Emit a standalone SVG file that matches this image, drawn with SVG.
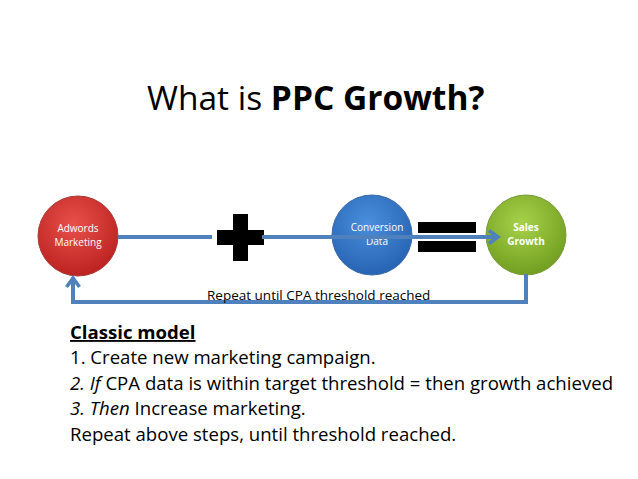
<svg xmlns="http://www.w3.org/2000/svg" width="638" height="479" viewBox="0 0 638 479">
<defs>
<radialGradient id="gr" cx="0.45" cy="0.35" r="0.7"><stop offset="0" stop-color="#e8504c"/><stop offset="1" stop-color="#b9201d"/></radialGradient>
<radialGradient id="gb" cx="0.45" cy="0.35" r="0.7"><stop offset="0" stop-color="#4a8fdc"/><stop offset="1" stop-color="#2461b0"/></radialGradient>
<radialGradient id="gg" cx="0.45" cy="0.35" r="0.7"><stop offset="0" stop-color="#a6d24a"/><stop offset="1" stop-color="#6f9b1e"/></radialGradient>
<marker id="ah" markerWidth="14" markerHeight="16" refX="11" refY="8" orient="auto" markerUnits="userSpaceOnUse" viewBox="0 0 14 16"><path d="M2,1.5 L11,8 L2,14.5" fill="none" stroke="#4f81bd" stroke-width="3.5"/></marker>
</defs>
<style>
.ln{stroke:#4f81bd;stroke-width:4;fill:none}
.nt{font-family:"Open Sans","Liberation Sans",sans-serif;font-size:10px;fill:#fff;text-anchor:middle}
.bt{font-family:"Open Sans","Liberation Sans",sans-serif;font-size:18.6px;fill:#000}
</style>
<rect width="638" height="479" fill="#fff"/>
<text x="147" y="110" font-family="Open Sans,Liberation Sans,sans-serif" font-size="33.5" fill="#000">What is <tspan font-weight="bold">PPC Growth?</tspan></text>
<g id="adwords"><circle cx="78" cy="236" r="40" fill="url(#gr)" stroke="#a83a38" stroke-width="1"/><text class="nt" x="78" y="232">Adwords</text><text class="nt" x="78" y="246">Marketing</text></g>
<g id="plus"><path d="M233,214 h15 v16 h16 v15 h-16 v16 h-15 v-16 h-16 v-15 h16 z" fill="#000"/></g>
<g id="conversion"><circle cx="372" cy="235" r="40" fill="url(#gb)" stroke="#3a6aa8" stroke-width="1"/><text class="nt" x="377" y="231">Conversion</text><text class="nt" x="377" y="245">Data</text></g>
<g id="equals"><rect x="418" y="222" width="58" height="11" fill="#000"/><rect x="418" y="241" width="58" height="11" fill="#000"/></g>
<g id="sales"><circle cx="526" cy="235" r="40" fill="url(#gg)" stroke="#7a9a3a" stroke-width="1"/><text class="nt" x="526" y="231" font-weight="bold">Sales</text><text class="nt" x="526" y="245" font-weight="bold">Growth</text></g>
<g id="connectors">
<line class="ln" x1="118" y1="237" x2="212" y2="237"/>
<line class="ln" x1="262" y1="237" x2="498" y2="237" marker-end="url(#ah)"/>
<polyline class="ln" points="526,274 526,302 73,302 73,278" marker-end="url(#ah)"/>
</g>
<text x="207" y="300" font-family="Open Sans,Liberation Sans,sans-serif" font-size="13.5" fill="#000">Repeat until CPA threshold reached</text>
<text class="bt" x="70" y="339" font-weight="bold" text-decoration="underline">Classic model</text>
<text class="bt" x="70" y="364">1.  Create new marketing campaign.</text>
<text class="bt" x="70" y="390"><tspan font-style="italic">2.  If</tspan> CPA data is within target threshold = then growth achieved</text>
<text class="bt" x="70" y="415"><tspan font-style="italic">3.  Then</tspan> Increase marketing.</text>
<text class="bt" x="70" y="441">Repeat above steps, until threshold reached.</text>
</svg>
